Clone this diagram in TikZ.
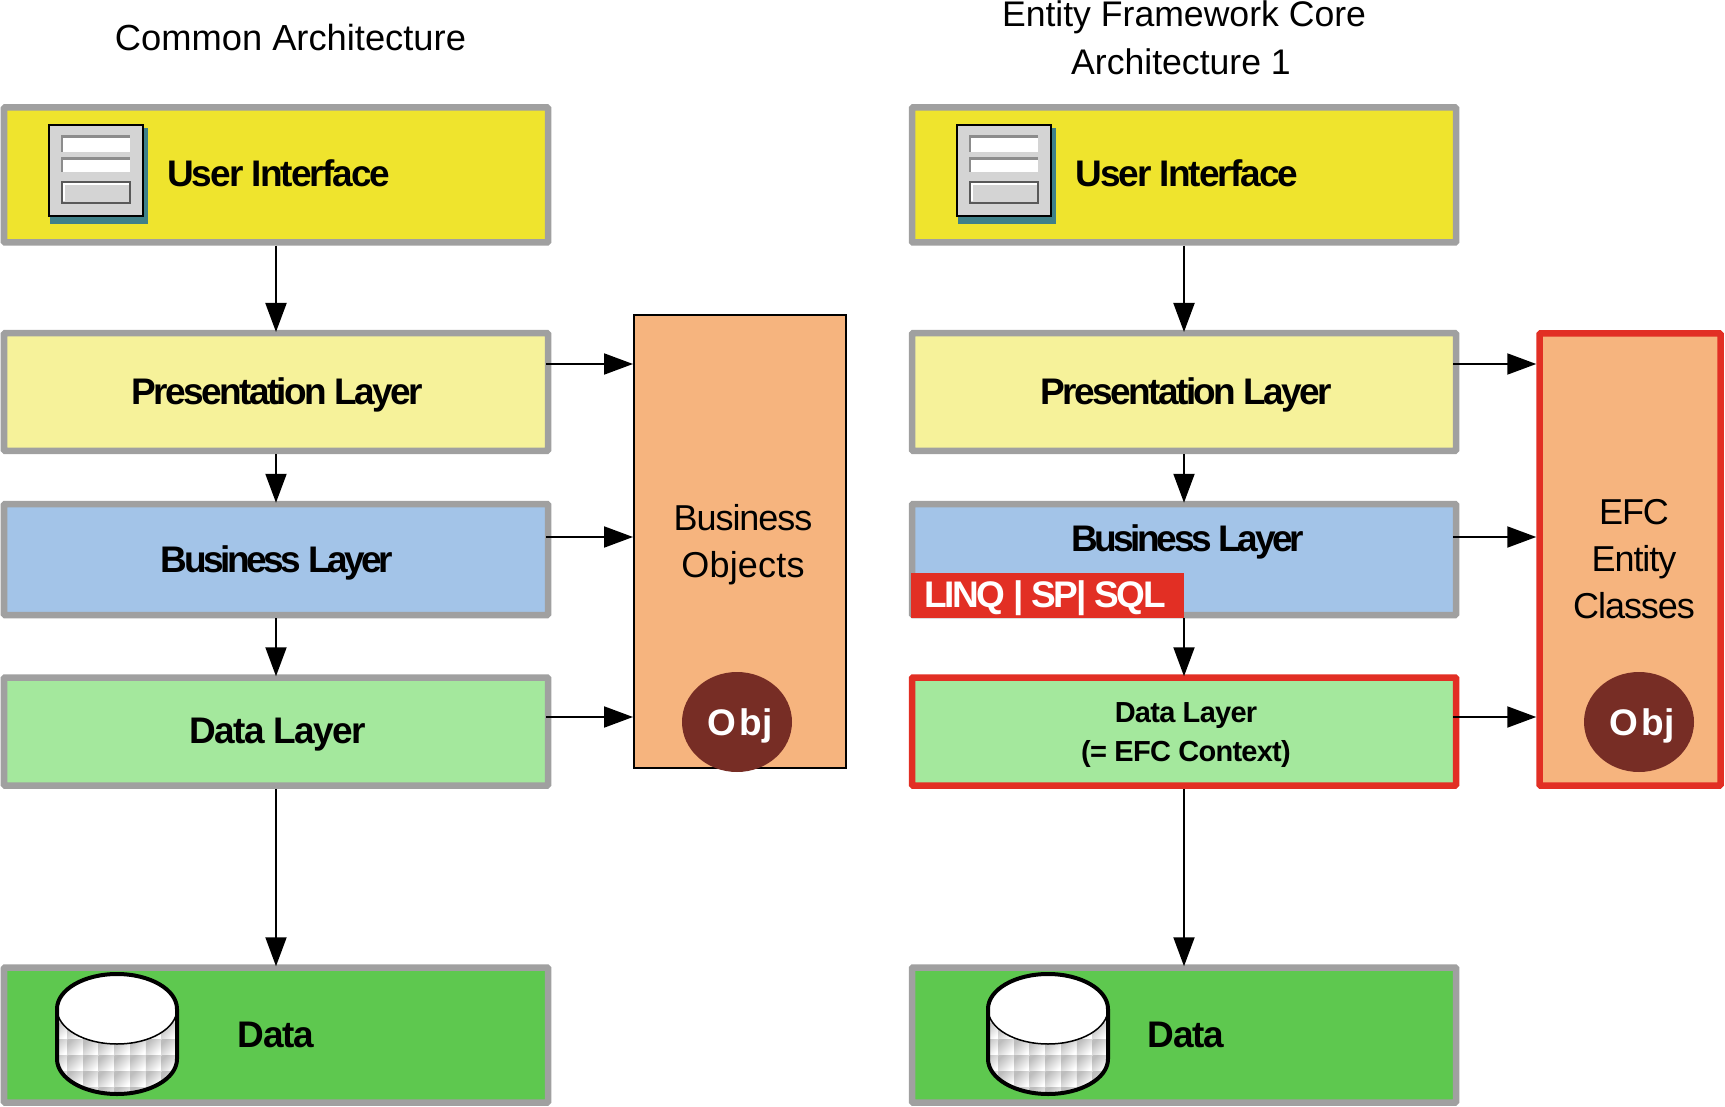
\documentclass[tikz,border=0pt]{standalone}
\usepackage{fontspec}
\setmainfont{Liberation Sans}
\newfontfamily\boldfam{Liberation Sans Bold}
\usetikzlibrary{arrows.meta,shapes.geometric}
\definecolor{cborder}{HTML}{A0A0A0}
\definecolor{cred}{HTML}{E22F24}
\definecolor{cyel}{HTML}{EFE42D}
\definecolor{cpres}{HTML}{F6F29A}
\definecolor{cbiz}{HTML}{A3C4E8}
\definecolor{cdl}{HTML}{A4E89D}
\definecolor{cdata}{HTML}{5EC84F}
\definecolor{corange}{HTML}{F6B47E}
\definecolor{cbrown}{HTML}{772D25}
\definecolor{cteal}{HTML}{3F8088}
\tikzset{
  layerbox/.style={draw=cborder,line width=6.5pt,rounded corners=1pt,minimum width=544pt,inner sep=0pt},
  redframe/.style={draw=cred},
  boldtext/.style={inner sep=0pt,font=\fontsize{37}{37}\boldfam\addfontfeature{LetterSpace=#1}},
  boldtext/.default=-3,
  smalltext/.style={inner sep=0pt,align=center,font=\fontsize{29}{38.5}\boldfam\addfontfeature{LetterSpace=-2.5}},
  plaintext/.style={inner sep=0pt,align=center,font=\fontsize{36.3}{46.5}\selectfont},
  tighttext/.style={inner sep=0pt,align=center,font=\fontsize{36}{47}\selectfont\addfontfeature{LetterSpace=-3}},
  objbadge/.style={ellipse,fill=cbrown,minimum width=110pt,minimum height=100pt,inner sep=0pt,text=white,text depth=0pt,font=\fontsize{37}{37}\boldfam},
  conn/.style={line width=2pt,-{Triangle[length=29pt,width=21pt]}},
  vconn/.style={conn,shorten >=-2pt},
}
\newcommand{\uiicon}[1]{%
  \begin{scope}[shift={(#1,0)}]
    \fill[cteal] (50,128) rectangle (148,224);
    \draw[black,line width=2pt,fill=black!17] (49,125) rectangle (143,216);
    \fill[black!45] (61,135) rectangle (130,152);
    \fill[white] (63,138) rectangle (130,152);
    \fill[black!45] (61,157) rectangle (130,172);
    \fill[white] (63,160) rectangle (130,172);
    \draw[black!65,line width=1.5pt,fill=black!17] (62,182) rectangle (130,203);
    \draw[white,line width=1.2pt] (64,201.5) -- (64,184) -- (129,184);
  \end{scope}}
\newcommand{\dbicon}[1]{%
  \begin{scope}[shift={(#1,0)}]
    \begin{scope}
      \clip (57,1009) -- (57,1059) arc[start angle=180,end angle=360,x radius=60pt,y radius=35pt] -- (177,1009) arc[start angle=0,end angle=180,x radius=60pt,y radius=35pt] -- cycle;
      \fill[black!12] (57,970) rectangle (177,1100);
      \foreach \i in {0,...,7}{
        \foreach \j in {0,...,4}{
          \shade[top color=black!26,bottom color=white,shading angle=45] ({51.6+\i*15.7},{1023+\j*16}) rectangle ({67.3+\i*15.7},{1039+\j*16});
        }}
    \end{scope}
    \draw[black,line width=1.5pt,fill=white] (117,1009) ellipse[x radius=60pt,y radius=35pt];
    \draw[black,line width=4pt] (57,1009) -- (57,1059) arc[start angle=180,end angle=360,x radius=60pt,y radius=35pt] -- (177,1009) arc[start angle=0,end angle=180,x radius=60pt,y radius=35pt] -- cycle;
  \end{scope}}
\begin{document}
\begin{tikzpicture}[x=1pt,y=-1pt]
\useasboundingbox (0,0) rectangle (1725,1107);
\fill[white] (0,0) rectangle (1725,1107);
% titles
\node[plaintext] (titleL) at (290.5,38) {Common Architecture};
\node[plaintext,font=\fontsize{35.6}{40}\selectfont] (titleR) at (1184,17) {Entity Framework Core};
\node[plaintext,font=\fontsize{35.6}{40}\selectfont] (titleRb) at (1181,62) {Architecture 1};
% left column
\node[layerbox,fill=cyel,minimum height=135pt] (uiL) at (276,175) {};
\node[layerbox,fill=cpres,minimum height=117.5pt] (presL) at (276,392) {};
\node[layerbox,fill=cbiz,minimum height=111pt] (bizL) at (276,559.5) {};
\node[layerbox,fill=cdl,minimum height=108pt] (dlL) at (276,731.5) {};
\node[layerbox,fill=cdata,minimum height=135pt] (dataL) at (276,1035) {};
\node[draw=black,line width=2pt,fill=corange,minimum width=212pt,minimum height=452pt,inner sep=0pt] (bo) at (740,541.5) {};
\node[tighttext] (boText) at (743,544.5) {Business\\{\addfontfeature{LetterSpace=0.5}Objects}};
\node[objbadge] (objL) at (737,722) {\hspace*{6pt}O\kern3pt bj};
\node[boldtext=-5.3,anchor=west] (uiLText) at (167,173) {User Interface};
\node[boldtext=-7] (presLText) at (277.5,394.5) {Presentation Layer};
\node[boldtext=-9.2] (bizLText) at (277,562.5) {Business Layer};
\node[boldtext=-4.3] (dlLText) at (277.5,735) {Data Layer};
\node[boldtext=-3] (dataLText) at (276,1035) {Data};
\uiicon{0}
\dbicon{0}
% right column
\node[layerbox,fill=cyel,minimum height=135pt] (uiR) at (1184,175) {};
\node[layerbox,fill=cpres,minimum height=117.5pt] (presR) at (1184,392) {};
\node[layerbox,fill=cbiz,minimum height=111pt] (bizR) at (1184,559.5) {};
\node[layerbox,redframe,fill=cdl,minimum height=108pt] (dlR) at (1184,731.5) {};
\node[layerbox,fill=cdata,minimum height=135pt] (dataR) at (1184,1035) {};
\node[layerbox,redframe,fill=corange,minimum width=181pt,minimum height=452pt] (efc) at (1630,559.5) {};
\node[tighttext] (efcText) at (1634,559.5) {EFC\\Entity\\Classes};
\node[objbadge] (objR) at (1639,722) {\hspace*{6pt}O\kern3pt bj};
\node[fill=cred,minimum width=273pt,minimum height=45pt,inner sep=0pt,outer sep=0pt] (linq) at (1047.5,595.5) {};
\node[boldtext=-6.5,text=white] (linqText) at (1045,598.5) {LINQ | SP| SQL};
\node[boldtext=-5.3,anchor=west] (uiRText) at (1075,173) {User Interface};
\node[boldtext=-7] (presRText) at (1186.5,394.5) {Presentation Layer};
\node[boldtext=-9.2] (bizRText) at (1187.5,542) {Business Layer};
\node[smalltext] (dlRText) at (1186,735) {Data Layer\\(= EFC Context)};
\node[boldtext=-3] (dataRText) at (1186,1035) {Data};
\uiicon{908}
\dbicon{931}
% connector start points
\coordinate (presLout) at (546,364);
\coordinate (bizLout) at (546,537);
\coordinate (dlLout) at (546,717);
\coordinate (presRout) at (1453,364);
\coordinate (bizRout) at (1453,537);
\coordinate (dlRout) at (1453,717);
% connectors
\draw[vconn] (uiL.south) -- (presL.north);
\draw[vconn] (presL.south) -- (bizL.north);
\draw[vconn] (bizL.south) -- (dlL.north);
\draw[vconn] (dlL.south) -- (dataL.north);
\draw[conn] (presLout) -- (presLout -| bo.west);
\draw[conn] (bizLout) -- (bizLout -| bo.west);
\draw[conn] (dlLout) -- (dlLout -| bo.west);
\draw[vconn] (uiR.south) -- (presR.north);
\draw[vconn] (presR.south) -- (bizR.north);
\draw[vconn] (linq.south east) -- (dlR.north);
\draw[vconn] (dlR.south) -- (dataR.north);
\draw[conn] (presRout) -- (presRout -| efc.west);
\draw[conn] (bizRout) -- (bizRout -| efc.west);
\draw[conn] (dlRout) -- (dlRout -| efc.west);
\end{tikzpicture}
\end{document}
